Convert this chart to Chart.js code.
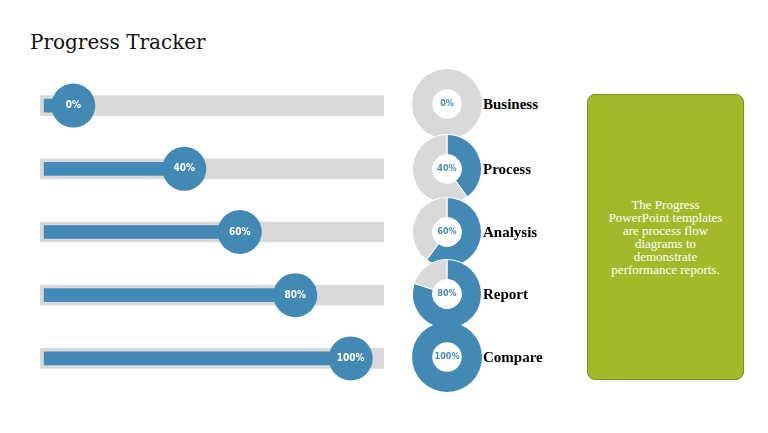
<!DOCTYPE html>
<html>
<head>
<meta charset="utf-8">
<script src="https://cdn.jsdelivr.net/npm/chart.js@4"></script>
<style>
  body { margin: 0; width: 768px; height: 433px; background: #fff; position: relative; overflow: hidden; }
  h1 { position: absolute; left: 30px; top: 30px; margin: 0; font: normal 20px "DejaVu Serif", serif; color: #111; }
  #bars { position: absolute; left: 40px; top: 74px; }
  .donut { position: absolute; left: 411px; }
  .lbl { position: absolute; left: 483px; font: bold 15px "Liberation Serif", serif; color: #000; transform: translateY(-50%); }
  .note { position: absolute; left: 587px; top: 94px; width: 157px; height: 286px; background: #a3b92a; border: 1px solid #7f9220; border-radius: 8px; color: #fff; font: 13px "Liberation Serif", serif; line-height: 13px; text-align: center; display: flex; align-items: center; justify-content: center; box-sizing: border-box; padding: 0 18px; }
</style>
</head>
<body>
<h1>Progress Tracker</h1>
<canvas id="bars" width="344" height="316"></canvas>
<div class="note">The Progress PowerPoint templates are process flow diagrams to demonstrate performance reports.</div>
<script>
const categories = ['Business', 'Process', 'Analysis', 'Report', 'Compare'];
const progress = [0, 40, 60, 80, 100];
const rowCenters = [104, 169, 232, 294, 357];

const BLUE = '#4389b6';
const GRAY = '#d9d9d9';

// knob labels drawn on top of the scatter points
const knobText = {
    id: 'knobText',
    afterDatasetsDraw(chart) {
        const ctx = chart.ctx;
        const meta = chart.getDatasetMeta(2);
        ctx.save();
        ctx.fillStyle = '#fff';
        ctx.font = 'bold 10px "DejaVu Sans Condensed", sans-serif';
        ctx.textAlign = 'center';
        ctx.textBaseline = 'middle';
        meta.data.forEach((pt, i) => ctx.fillText(progress[i] + '%', pt.x, pt.y));
        ctx.restore();
    }
};

new Chart(document.getElementById('bars'), {
    data: {
        labels: categories,
        datasets: [
            {
                type: 'bar',
                data: progress.map(v => [-10.5, v]),
                backgroundColor: BLUE,
                barThickness: 13,
                grouped: false,
                order: 1
            },
            {
                type: 'bar',
                data: progress.map(() => [-12, 112]),
                backgroundColor: GRAY,
                barThickness: 20,
                grouped: false,
                order: 2
            },
            {
                type: 'scatter',
                data: progress.map((v, i) => ({ x: v, y: categories[i] })),
                pointRadius: 22,
                pointBackgroundColor: BLUE,
                pointBorderWidth: 0,
                order: 0
            }
        ]
    },
    options: {
        indexAxis: 'y',
        responsive: false,
        animation: false,
        clip: false,
        layout: { padding: 0, autoPadding: false },
        plugins: { legend: { display: false }, tooltip: { enabled: false } },
        scales: {
            x: { type: 'linear', min: -12, max: 112, display: false },
            y: { type: 'category', display: false }
        }
    },
    plugins: [knobText]
});

// doughnuts with their centre text
const centreText = {
    id: 'centreText',
    afterDraw(chart) {
        const ctx = chart.ctx;
        const arc = chart.getDatasetMeta(0).data[0];
        ctx.save();
        ctx.fillStyle = BLUE;
        ctx.font = 'bold 9px "DejaVu Sans Condensed", sans-serif';
        ctx.textAlign = 'center';
        ctx.textBaseline = 'middle';
        ctx.fillText(chart.options.plugins.centreText.text, arc.x, arc.y);
        ctx.restore();
    }
};

categories.forEach((name, i) => {
    const c = document.createElement('canvas');
    c.className = 'donut';
    c.width = 72; c.height = 72;
    c.style.top = (rowCenters[i] - 36) + 'px';
    document.body.appendChild(c);

    const lbl = document.createElement('div');
    lbl.className = 'lbl';
    lbl.style.top = rowCenters[i] + 'px';
    lbl.textContent = name;
    document.body.appendChild(lbl);

    new Chart(c, {
        type: 'doughnut',
        data: {
            labels: ['Done', 'Remaining'],
            datasets: [{
                data: [progress[i], 100 - progress[i]],
                backgroundColor: [BLUE, GRAY],
                borderColor: '#fff',
                borderWidth: progress[i] === 0 || progress[i] === 100 ? 0 : 1
            }]
        },
        options: {
            responsive: false,
            animation: false,
            cutout: '42%',
            layout: { padding: 1 },
            plugins: {
                legend: { display: false },
                tooltip: { enabled: false },
                centreText: { text: progress[i] + '%' }
            }
        },
        plugins: [centreText]
    });
});
</script>
</body>
</html>
